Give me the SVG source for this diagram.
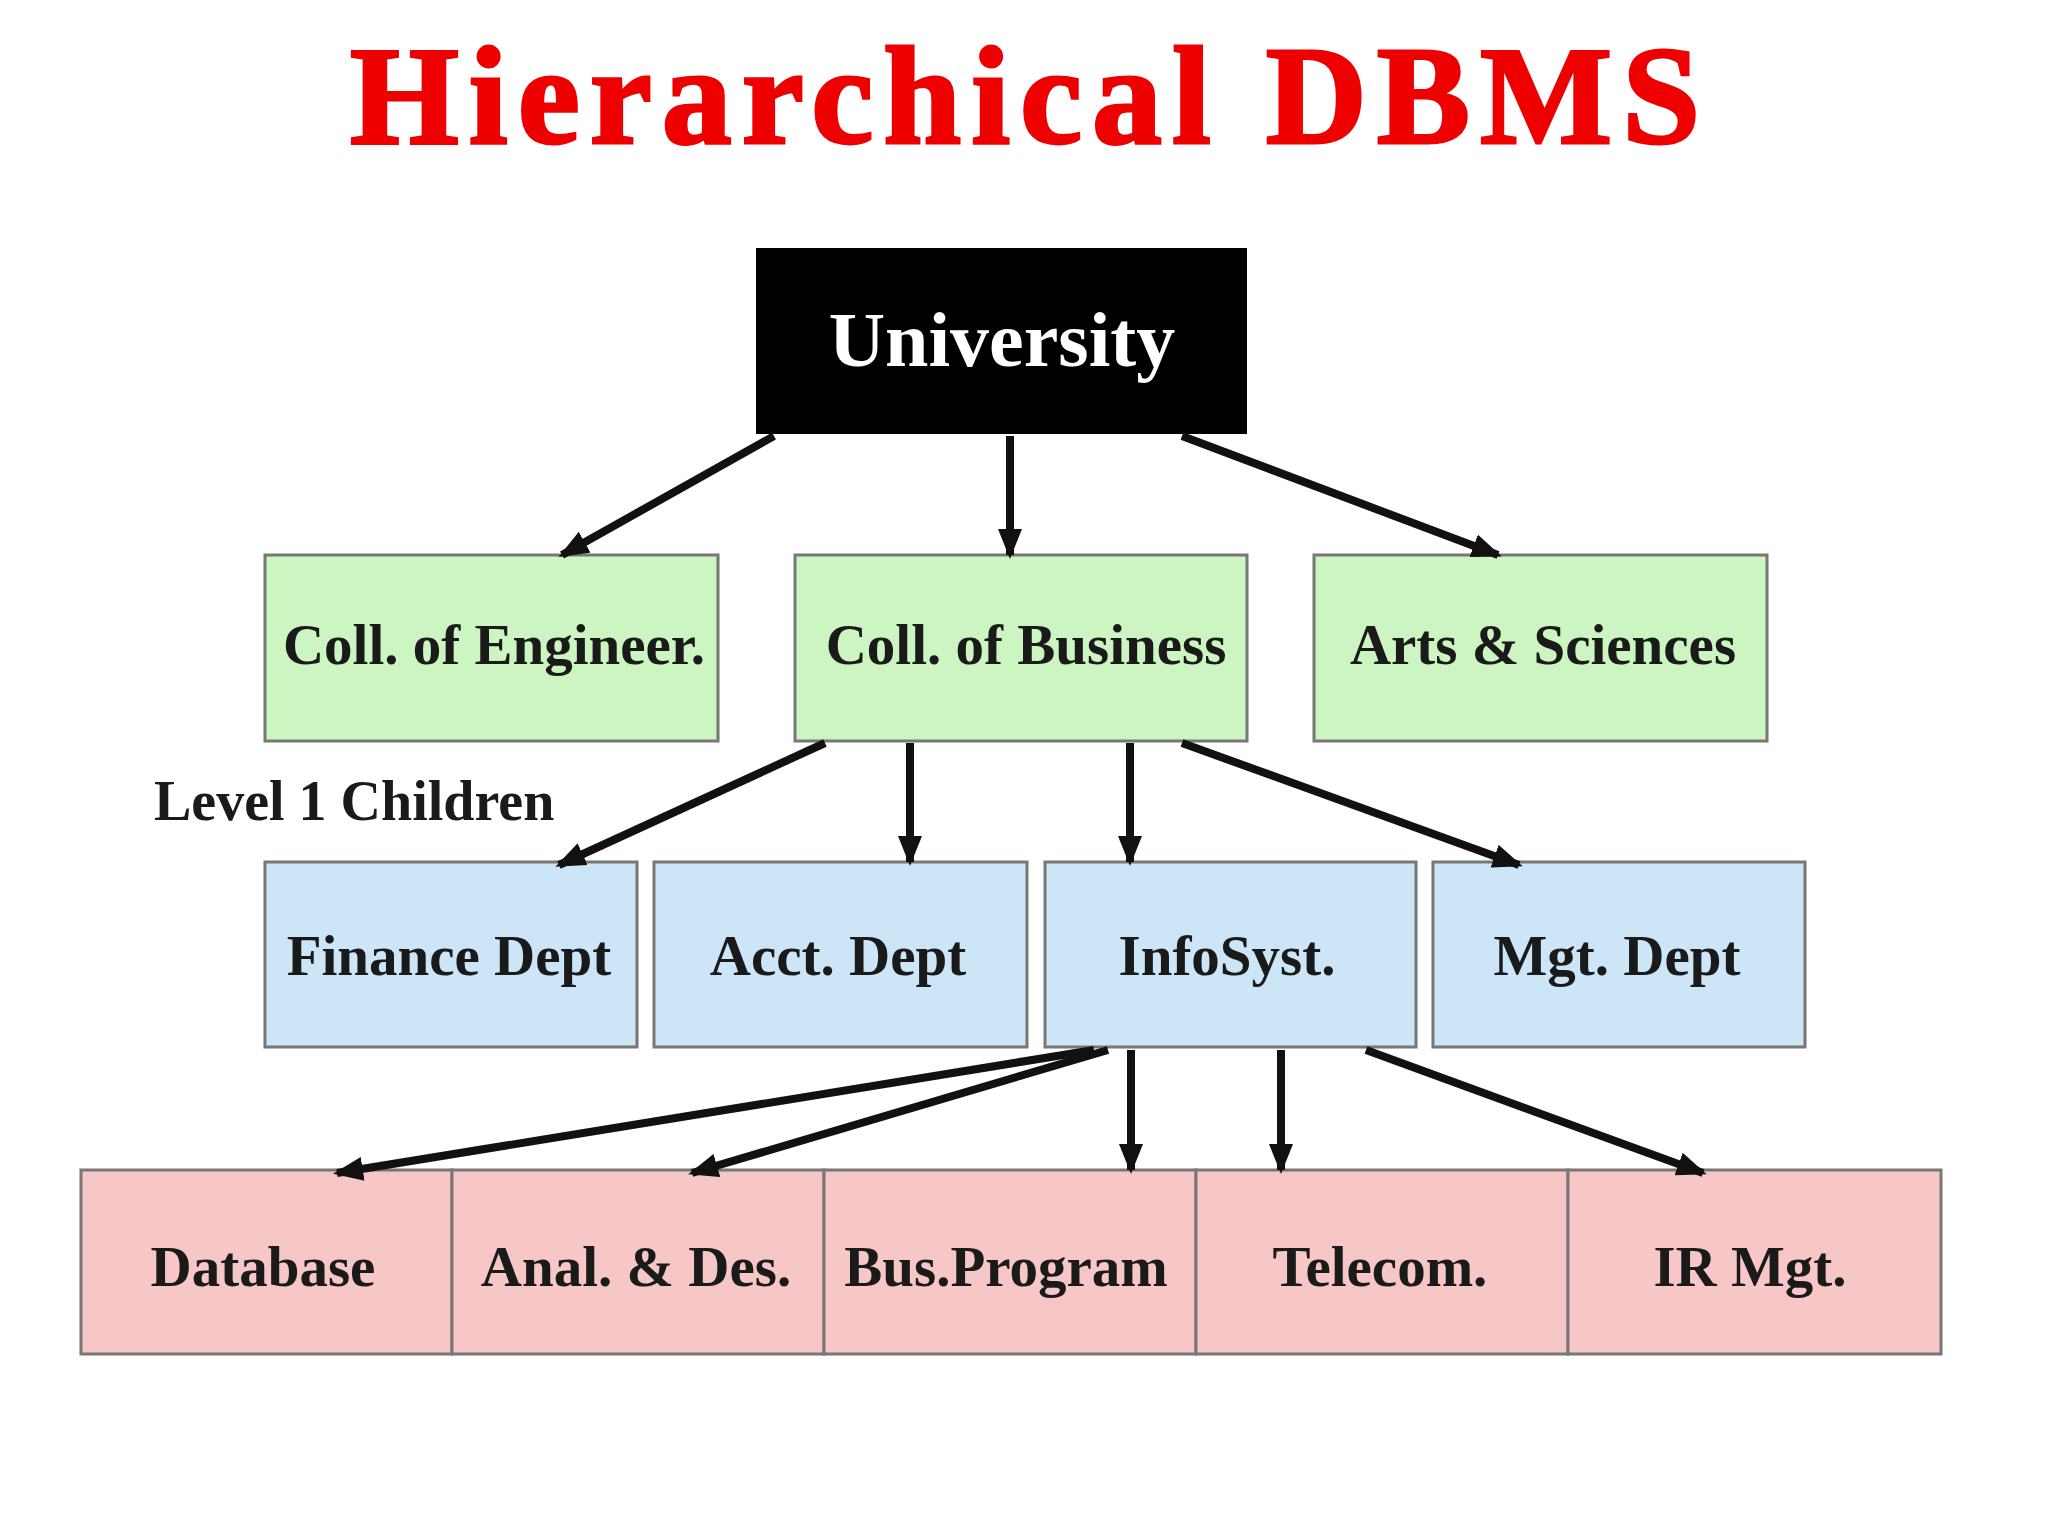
<svg xmlns="http://www.w3.org/2000/svg" width="2048" height="1536" viewBox="0 0 2048 1536">
<style>
.t{font-family:"Liberation Serif",serif;font-weight:bold;text-anchor:middle}
.l1{fill:#ccf5c2;stroke:#777;stroke-width:3}
.l2{fill:#cce6f7;stroke:#777;stroke-width:3}
.l3{fill:#f7c6c6;stroke:#777;stroke-width:3}
.n{font-size:57px;fill:#1a1a1a}
.c line{stroke:#111;stroke-width:8;marker-end:url(#a)}
</style>
<defs><marker id="a" markerUnits="userSpaceOnUse" markerWidth="30" markerHeight="24" refX="26" refY="12" orient="auto"><path d="M0,0 L30,12 L0,24 Z" fill="#111"/></marker></defs>
<rect width="2048" height="1536" fill="#fff"/>
<text class="t" x="1025" y="143" font-size="140" fill="#ee0000" stroke="#ee0000" stroke-width="3" textLength="1350" lengthAdjust="spacing">Hierarchical  DBMS</text>
<g id="university"><rect x="756" y="248" width="491" height="186" fill="#000"/><text class="t" x="1002" y="366" font-size="78" fill="#fff">University</text></g>
<g id="eng"><rect class="l1" x="265" y="555" width="453" height="186"/><text class="t n" x="494" y="664">Coll. of Engineer.</text></g>
<g id="bus"><rect class="l1" x="795" y="555" width="452" height="186"/><text class="t n" x="1026" y="664">Coll. of Business</text></g>
<g id="arts"><rect class="l1" x="1314" y="555" width="453" height="186"/><text class="t n" x="1543" y="664">Arts &amp; Sciences</text></g>
<text class="t" x="154" y="820" font-size="56" fill="#1a1a1a" style="text-anchor:start">Level 1 Children</text>
<g id="fin"><rect class="l2" x="265" y="862" width="372" height="185"/><text class="t n" x="449" y="975">Finance Dept</text></g>
<g id="acct"><rect class="l2" x="654" y="862" width="373" height="185"/><text class="t n" x="838" y="975">Acct. Dept</text></g>
<g id="info"><rect class="l2" x="1045" y="862" width="371" height="185"/><text class="t n" x="1227" y="975">InfoSyst.</text></g>
<g id="mgt"><rect class="l2" x="1433" y="862" width="372" height="185"/><text class="t n" x="1617" y="975">Mgt. Dept</text></g>
<g id="db"><rect class="l3" x="81" y="1170" width="371" height="184"/><text class="t n" x="263" y="1286">Database</text></g>
<g id="anal"><rect class="l3" x="452" y="1170" width="372" height="184"/><text class="t n" x="636" y="1286">Anal. &amp; Des.</text></g>
<g id="prog"><rect class="l3" x="824" y="1170" width="372" height="184"/><text class="t n" x="1006" y="1286">Bus.Program</text></g>
<g id="tele"><rect class="l3" x="1196" y="1170" width="372" height="184"/><text class="t n" x="1380" y="1286">Telecom.</text></g>
<g id="ir"><rect class="l3" x="1568" y="1170" width="373" height="184"/><text class="t n" x="1750" y="1286">IR Mgt.</text></g>
<g class="c" id="connectors">
<line x1="774" y1="436" x2="562" y2="555"/>
<line x1="1010" y1="436" x2="1010" y2="555"/>
<line x1="1182" y1="436" x2="1498" y2="555"/>
<line x1="825" y1="743" x2="559" y2="865"/>
<line x1="910" y1="743" x2="910" y2="862"/>
<line x1="1130" y1="743" x2="1130" y2="862"/>
<line x1="1182" y1="743" x2="1519" y2="865"/>
<line x1="1094" y1="1050" x2="337" y2="1173"/>
<line x1="1108" y1="1050" x2="692" y2="1173"/>
<line x1="1131" y1="1050" x2="1131" y2="1170"/>
<line x1="1281" y1="1050" x2="1281" y2="1170"/>
<line x1="1366" y1="1050" x2="1703" y2="1173"/>
</g>
</svg>
